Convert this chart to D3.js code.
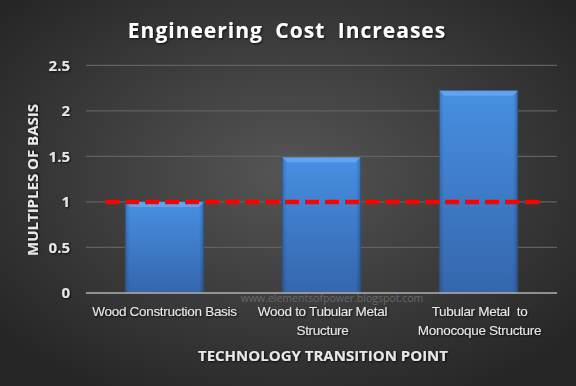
<!DOCTYPE html>
<html><head><meta charset="utf-8">
<script src="https://cdn.jsdelivr.net/npm/d3@7"></script>
<style>body{margin:0;background:#2a2a2a}svg{display:block}</style>
</head><body>
<script>
const categories = [["Wood Construction Basis"], ["Wood to Tubular Metal", "Structure"], ["Tubular Metal  to", "Monocoque Structure"]];
const values = [1.0, 1.49, 2.22];
const baseline = 1.0;
const yTicks = [0, 0.5, 1, 1.5, 2, 2.5];

const W = 576, H = 386;
const svg = d3.select("body").append("svg").attr("width", W).attr("height", H);
const defs = svg.append("defs");
const bg = defs.append("radialGradient").attr("id","bg").attr("cx","50%").attr("cy","45%").attr("r","65%");
bg.append("stop").attr("offset","0%").attr("stop-color","#555555");
bg.append("stop").attr("offset","100%").attr("stop-color","#262626");
const bar = defs.append("linearGradient").attr("id","bar").attr("x1",0).attr("y1",0).attr("x2",0).attr("y2",1);
bar.append("stop").attr("offset","0%").attr("stop-color","#4790e2");
bar.append("stop").attr("offset","100%").attr("stop-color","#3566ad");
const side = defs.append("linearGradient").attr("id","side").attr("x1",0).attr("y1",0).attr("x2",1).attr("y2",0);
side.append("stop").attr("offset","0%").attr("stop-color","#000").attr("stop-opacity",0.18);
side.append("stop").attr("offset","6%").attr("stop-color","#000").attr("stop-opacity",0);
side.append("stop").attr("offset","94%").attr("stop-color","#000").attr("stop-opacity",0);
side.append("stop").attr("offset","100%").attr("stop-color","#000").attr("stop-opacity",0.22);
const sh = defs.append("filter").attr("id","sh").attr("x","-10%").attr("y","-30%").attr("width","120%").attr("height","160%");
sh.append("feDropShadow").attr("dx",1).attr("dy",1).attr("stdDeviation",0.8).attr("flood-color","#000").attr("flood-opacity",0.8);

svg.append("rect").attr("width",W).attr("height",H).attr("fill","url(#bg)");

const x0 = 86, x1 = 557, yTop = 65.3, yBot = 293;
const x = d3.scaleBand().domain(d3.range(categories.length)).range([x0, x1]).paddingInner(0.5).paddingOuter(0.25);
const y = d3.scaleLinear().domain([0, 2.5]).range([yBot, yTop]);

// gridlines
svg.append("g").selectAll("line").data(yTicks.filter(d => d > 0)).join("line")
  .attr("x1", x0).attr("x2", x1).attr("y1", d => y(d)).attr("y2", d => y(d))
  .attr("stroke", "#616161").attr("stroke-width", 1.2);

// y axis labels
const yAxis = d3.axisLeft(y).tickValues(yTicks).tickFormat(d3.format("~g")).tickSize(0).tickPadding(0);
const ya = svg.append("g").attr("transform", `translate(${x0-16},0)`).call(yAxis);
ya.select(".domain").remove();
ya.selectAll("text").attr("fill","#e6e6e6").attr("font-family","'Open Sans', sans-serif")
  .attr("font-weight","bold").attr("font-size",15).attr("filter","url(#sh)");

// bars
const bars = svg.append("g").selectAll("g").data(values).join("g");
bars.append("rect").attr("x",(d,i)=>x(i)).attr("y",d=>y(d)).attr("width",x.bandwidth()).attr("height",d=>yBot-y(d))
  .attr("fill","url(#bar)").attr("stroke","#2f5c9a").attr("stroke-width",0.8);
bars.append("rect").attr("x",(d,i)=>x(i)).attr("y",d=>y(d)).attr("width",x.bandwidth()).attr("height",d=>yBot-y(d))
  .attr("fill","url(#side)");
bars.append("path").attr("d",(d,i)=>{const a=x(i),b=a+x.bandwidth(),t=y(d);return `M${a},${t}L${b},${t}L${b-5},${t+5}L${a+5},${t+5}Z`;})
  .attr("fill","#6eaaf0").attr("opacity",0.75);

// x axis line
svg.append("line").attr("x1",x0).attr("x2",x1).attr("y1",yBot).attr("y2",yBot).attr("stroke","#b0b0b0").attr("stroke-width",1.5);

// baseline dashed
svg.append("line").attr("x1",105).attr("x2",540).attr("y1",y(baseline)).attr("y2",y(baseline))
  .attr("stroke","#ff0000").attr("stroke-width",4.5).attr("stroke-dasharray","14 6");

// watermark
svg.append("text").attr("x",332).attr("y",302).attr("text-anchor","middle")
  .attr("font-family","'Open Sans', sans-serif").attr("font-size",10.5).attr("fill","#686868")
  .text("www.elementsofpower.blogspot.com");

// x labels
const xl = svg.append("g").selectAll("text").data(categories).join("text")
  .attr("x",(d,i)=>x(i)+x.bandwidth()/2+ (i===0?0:1)).attr("y",316)
  .attr("text-anchor","middle").attr("font-family","'Liberation Sans', Arial, sans-serif")
  .attr("font-size",13.5).attr("letter-spacing",-0.3).attr("fill","#e8e8e8").attr("filter","url(#sh)");
xl.selectAll("tspan").data(d=>d).join("tspan").attr("x",function(){return this.parentNode.getAttribute("x");})
  .attr("dy",(d,i)=>i===0?0:18.5).attr("xml:space","preserve").text(d=>d);

// axis titles
svg.append("text").attr("x",323).attr("y",360.5).attr("text-anchor","middle")
  .attr("font-family","'Open Sans', sans-serif").attr("font-weight","bold").attr("font-size",15)
  .attr("fill","#e8e8e8").attr("filter","url(#sh)").text("TECHNOLOGY TRANSITION POINT");
svg.append("text").attr("transform","translate(38,180) rotate(-90)").attr("text-anchor","middle")
  .attr("font-family","'Open Sans', sans-serif").attr("font-weight","bold").attr("font-size",15)
  .attr("fill","#e8e8e8").attr("filter","url(#sh)").text("MULTIPLES OF BASIS");

// title
svg.append("text").attr("x",287).attr("y",38).attr("text-anchor","middle")
  .attr("font-family","'Open Sans', sans-serif").attr("font-weight","bold").attr("font-size",21)
  .attr("letter-spacing",1).attr("word-spacing",6)
  .attr("fill","#ffffff").attr("filter","url(#sh)").text("Engineering Cost Increases");
</script>
</body></html>
